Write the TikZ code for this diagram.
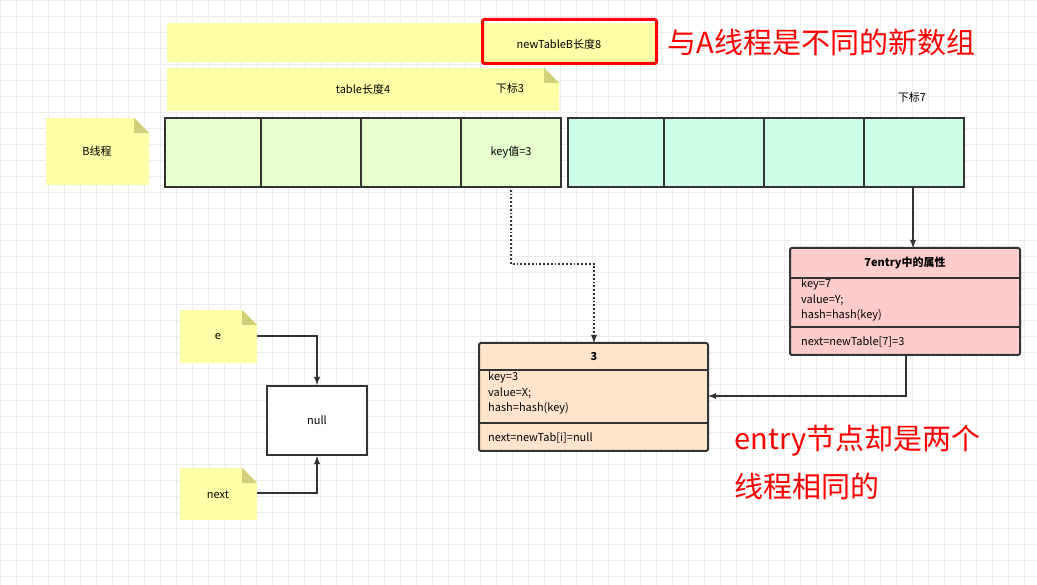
\documentclass[tikz,border=0pt]{standalone}
\usepackage{fontspec}
\setmainfont{Noto Sans CJK SC}
\definecolor{ga}{HTML}{E6FFCC}
\definecolor{gb}{HTML}{CCFFE6}
\definecolor{ny}{HTML}{FFFFA8}
\definecolor{nf}{HTML}{CFCF7A}
\definecolor{ln}{HTML}{333333}
\begin{document}
\begin{tikzpicture}[x=1pt,y=-1pt,font=\fontsize{11}{13}\selectfont,
  note/.style={fill=ny,draw=none},
  cellA/.style={draw=ln,line width=2pt,fill=ga,minimum width=100pt,minimum height=69pt,anchor=north west,inner sep=0},
  cellB/.style={cellA,fill=gb},
  box/.style={draw=ln,line width=2pt,rounded corners=2pt},
  arr/.style={draw=ln,line width=1.8pt,-latex},
  big/.style={text=red,font=\fontsize{29}{34}\selectfont,anchor=west}]
\useasboundingbox (0,0) rectangle (1037,585);
\fill[white] (0,0) rectangle (1037,585);
\foreach \i in {0,16,...,1040} \draw[black!7] (\i,0) -- (\i,585);
\foreach \j in {0,16,...,590} \draw[black!7] (0,\j) -- (1037,\j);
% top notes
\fill[note] (167,23) rectangle (655,62);
\node[box,draw=red,line width=3pt,minimum width=174pt,minimum height=44pt,anchor=north west,inner sep=0] (nt) at (481,18) {};
\node at (559,44) {newTableB长度8};
\node[big] (t1) at (664,42) {与A线程是不同的新数组};
\fill[note] (167,68) -- (544,68) -- (559,83) -- (559,111) -- (167,111) -- cycle;
\fill[nf] (544,68) -- (559,83) -- (544,83) -- cycle;
\node (tl) at (363,89) {table长度4};
\node (xb3) at (510,88) {下标3};
\fill[note] (46,118) -- (134,118) -- (149,133) -- (149,185) -- (46,185) -- cycle;
\fill[nf] (134,118) -- (149,133) -- (134,133) -- cycle;
\node (bt) at (97,151) {B线程};
% cells
\node[cellA,minimum width=96pt] (a0) at (164,117) {};
\node[cellA] (a1) at (260,117) {};
\node[cellA] (a2) at (360,117) {};
\node[cellA] (a3) at (460,117) {key值=3};
\node[cellB,minimum width=96pt] (b0) at (567,117) {};
\node[cellB] (b1) at (663,117) {};
\node[cellB] (b2) at (763,117) {};
\node[cellB] (b3) at (863,117) {};
\node (xb7) at (912,97) {下标7};
% entry 7
\draw[box,fill=red!20] (790,248) rectangle (1020,355);
\draw[ln,line width=2pt] (790,278) -- (1020,278) (790,327) -- (1020,327);
\node[font=\fontsize{11}{13}\selectfont\bfseries] (e7) at (905,263) {7entry中的属性};
\node[anchor=north west,align=left,inner sep=0,font=\fontsize{11}{15.5}\selectfont] at (801,279) {key=7\\value=Y;\\hash=hash(key)};
\node[anchor=west,inner sep=0] at (801,342) {next=newTable[7]=3};
\coordinate (e7t) at (913,248);
\coordinate (e7b) at (906,355);
% entry 3
\draw[box,fill=orange!20] (479,343) rectangle (708,451);
\draw[ln,line width=2pt] (479,370) -- (708,370) (479,423) -- (708,423);
\node[font=\fontsize{11}{13}\selectfont\bfseries] (e3) at (594,357) {3};
\node[anchor=north west,align=left,inner sep=0,font=\fontsize{11}{15.5}\selectfont] at (488,372) {key=3\\value=X;\\hash=hash(key)};
\node[anchor=west,inner sep=0] at (488,438) {next=newTab[i]=null};
\coordinate (e3t) at (594,343);
\coordinate (e3r) at (708,396);
% connectors
\draw[arr] (913,186) -- (e7t);
\draw[ln,line width=1.8pt,dotted,-latex] (511,186) -- (511,264) -- (594,264) -- (e3t);
\draw[arr] (e7b) -- (906,396) -- (e3r);
% e/null/next
\fill[note] (180,310) -- (242,310) -- (257,325) -- (257,363) -- (180,363) -- cycle;
\fill[nf] (242,310) -- (257,325) -- (242,325) -- cycle;
\node (e) at (218,337) {e};
\fill[note] (180,468) -- (242,468) -- (257,483) -- (257,520) -- (180,520) -- cycle;
\fill[nf] (242,468) -- (257,483) -- (242,483) -- cycle;
\node (nx) at (218,495) {next};
\node[draw=ln,line width=1.8pt,fill=white,minimum width=100pt,minimum height=69pt] (null) at (317,420.5) {null};
\draw[arr] (257,336) -| (null.north);
\draw[arr] (257,493) -| (null.south);
\node[big] (t2) at (731,441) {entry节点却是两个};
\node[big] (t3) at (731,486) {线程相同的};
\end{tikzpicture}
\end{document}
